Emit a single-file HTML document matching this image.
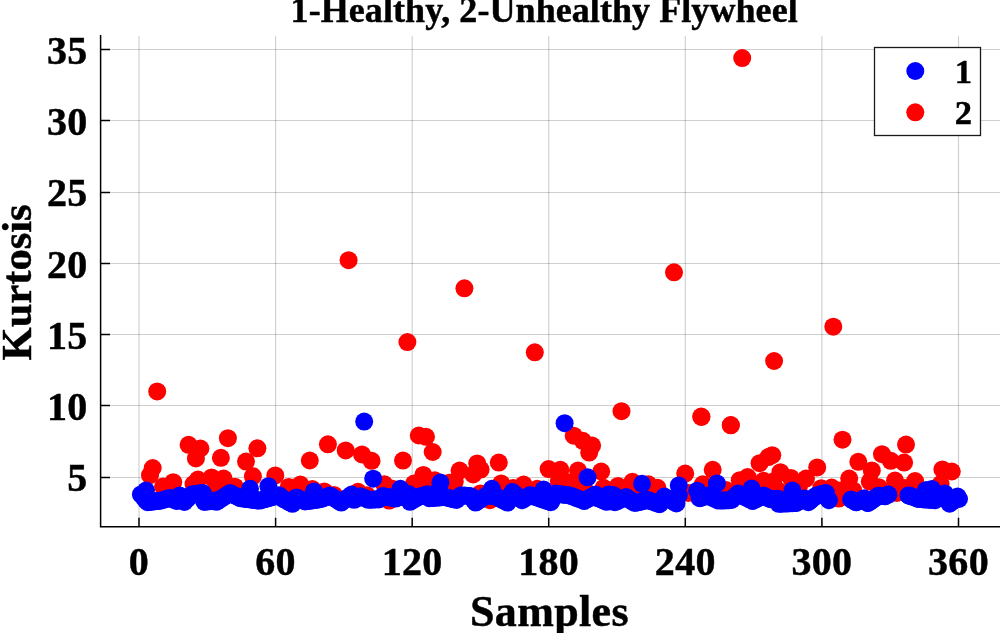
<!DOCTYPE html>
<html><head><meta charset="utf-8"><title>Kurtosis</title>
<style>
html,body{margin:0;padding:0;background:#fff;}
body{width:1000px;height:633px;overflow:hidden;position:relative;font-family:"Liberation Serif",serif;}
svg{position:absolute;left:0;top:0;display:block}
text{font-family:"Liberation Serif",serif;font-weight:bold;fill:#000;stroke:#000;stroke-width:0.45px;stroke-linejoin:round}
</style></head><body>
<svg width="1000" height="633" viewBox="0 0 1000 633">
<rect width="1000" height="633" fill="#fff"/>
<g stroke="#000" stroke-opacity="0.19" stroke-width="1.15" fill="none"><line x1="139.0" y1="36" x2="139.0" y2="527"/><line x1="275.6" y1="36" x2="275.6" y2="527"/><line x1="412.2" y1="36" x2="412.2" y2="527"/><line x1="548.7" y1="36" x2="548.7" y2="527"/><line x1="685.3" y1="36" x2="685.3" y2="527"/><line x1="821.9" y1="36" x2="821.9" y2="527"/><line x1="958.5" y1="36" x2="958.5" y2="527"/><line x1="100" y1="477.5" x2="1000" y2="477.5"/><line x1="100" y1="405.5" x2="1000" y2="405.5"/><line x1="100" y1="334.5" x2="1000" y2="334.5"/><line x1="100" y1="263.5" x2="1000" y2="263.5"/><line x1="100" y1="192.5" x2="1000" y2="192.5"/><line x1="100" y1="120.5" x2="1000" y2="120.5"/><line x1="100" y1="49.5" x2="1000" y2="49.5"/></g>
<g fill="#ff0000"><circle cx="348.6" cy="260.2" r="9"/><circle cx="407.4" cy="342.1" r="9"/><circle cx="157.2" cy="391.4" r="9"/><circle cx="464.4" cy="288.3" r="9"/><circle cx="534.8" cy="352.3" r="9"/><circle cx="674.0" cy="272.3" r="9"/><circle cx="621.5" cy="411.2" r="9"/><circle cx="701.2" cy="416.6" r="9"/><circle cx="730.8" cy="425.0" r="9"/><circle cx="833.3" cy="326.7" r="9"/><circle cx="774.1" cy="361.0" r="9"/><circle cx="742.2" cy="58.1" r="9"/><circle cx="152.7" cy="468.0" r="9"/><circle cx="150.0" cy="475.2" r="9"/><circle cx="188.6" cy="444.8" r="9"/><circle cx="200.4" cy="448.5" r="9"/><circle cx="195.9" cy="458.4" r="9"/><circle cx="227.9" cy="438.2" r="9"/><circle cx="220.9" cy="457.8" r="9"/><circle cx="257.4" cy="448.3" r="9"/><circle cx="246.0" cy="461.6" r="9"/><circle cx="252.9" cy="476.3" r="9"/><circle cx="275.3" cy="475.4" r="9"/><circle cx="288.7" cy="486.9" r="9"/><circle cx="173.2" cy="482.2" r="9"/><circle cx="163.1" cy="486.6" r="9"/><circle cx="198.0" cy="479.5" r="9"/><circle cx="211.6" cy="477.4" r="9"/><circle cx="223.6" cy="478.6" r="9"/><circle cx="234.8" cy="486.7" r="9"/><circle cx="193.5" cy="484.0" r="9"/><circle cx="216.4" cy="487.2" r="9"/><circle cx="309.8" cy="460.5" r="9"/><circle cx="327.9" cy="444.3" r="9"/><circle cx="345.7" cy="450.4" r="9"/><circle cx="362.0" cy="454.4" r="9"/><circle cx="371.6" cy="460.8" r="9"/><circle cx="403.0" cy="460.6" r="9"/><circle cx="418.8" cy="435.5" r="9"/><circle cx="426.0" cy="436.8" r="9"/><circle cx="432.7" cy="452.0" r="9"/><circle cx="423.3" cy="474.9" r="9"/><circle cx="434.8" cy="480.3" r="9"/><circle cx="414.0" cy="483.5" r="9"/><circle cx="300.4" cy="484.6" r="9"/><circle cx="312.4" cy="489.1" r="9"/><circle cx="324.4" cy="491.5" r="9"/><circle cx="334.0" cy="494.9" r="9"/><circle cx="358.0" cy="491.8" r="9"/><circle cx="366.8" cy="495.2" r="9"/><circle cx="384.4" cy="484.3" r="9"/><circle cx="392.4" cy="488.8" r="9"/><circle cx="389.2" cy="500.6" r="9"/><circle cx="449.2" cy="482.7" r="9"/><circle cx="426.8" cy="484.8" r="9"/><circle cx="459.6" cy="470.6" r="9"/><circle cx="477.2" cy="463.4" r="9"/><circle cx="480.6" cy="469.6" r="9"/><circle cx="473.2" cy="474.4" r="9"/><circle cx="498.8" cy="462.6" r="9"/><circle cx="454.8" cy="481.6" r="9"/><circle cx="501.2" cy="483.4" r="9"/><circle cx="523.6" cy="484.6" r="9"/><circle cx="513.2" cy="488.0" r="9"/><circle cx="537.2" cy="488.8" r="9"/><circle cx="548.6" cy="469.1" r="9"/><circle cx="560.4" cy="469.8" r="9"/><circle cx="578.0" cy="470.6" r="9"/><circle cx="601.2" cy="471.5" r="9"/><circle cx="573.7" cy="435.7" r="9"/><circle cx="582.8" cy="440.8" r="9"/><circle cx="592.1" cy="445.6" r="9"/><circle cx="589.2" cy="452.6" r="9"/><circle cx="558.8" cy="480.8" r="9"/><circle cx="568.4" cy="482.4" r="9"/><circle cx="576.4" cy="487.2" r="9"/><circle cx="603.6" cy="487.8" r="9"/><circle cx="490.0" cy="500.2" r="9"/><circle cx="480.4" cy="493.4" r="9"/><circle cx="584.4" cy="488.8" r="9"/><circle cx="701.5" cy="417.0" r="9"/><circle cx="730.8" cy="425.3" r="9"/><circle cx="685.2" cy="473.6" r="9"/><circle cx="712.7" cy="469.8" r="9"/><circle cx="632.4" cy="481.8" r="9"/><circle cx="618.0" cy="485.9" r="9"/><circle cx="657.5" cy="487.8" r="9"/><circle cx="648.4" cy="484.3" r="9"/><circle cx="702.8" cy="484.3" r="9"/><circle cx="739.8" cy="480.2" r="9"/><circle cx="747.6" cy="477.1" r="9"/><circle cx="759.6" cy="463.2" r="9"/><circle cx="768.4" cy="457.1" r="9"/><circle cx="763.6" cy="480.8" r="9"/><circle cx="688.4" cy="493.0" r="9"/><circle cx="726.0" cy="490.1" r="9"/><circle cx="637.2" cy="490.4" r="9"/><circle cx="650.0" cy="491.2" r="9"/><circle cx="772.2" cy="455.2" r="9"/><circle cx="780.4" cy="472.2" r="9"/><circle cx="790.8" cy="477.9" r="9"/><circle cx="806.0" cy="478.6" r="9"/><circle cx="817.2" cy="467.4" r="9"/><circle cx="773.2" cy="481.6" r="9"/><circle cx="842.5" cy="439.7" r="9"/><circle cx="858.3" cy="461.8" r="9"/><circle cx="871.8" cy="470.4" r="9"/><circle cx="869.8" cy="481.6" r="9"/><circle cx="849.2" cy="478.6" r="9"/><circle cx="882.0" cy="454.2" r="9"/><circle cx="890.8" cy="460.8" r="9"/><circle cx="906.0" cy="444.6" r="9"/><circle cx="904.1" cy="462.6" r="9"/><circle cx="895.0" cy="480.6" r="9"/><circle cx="915.1" cy="481.0" r="9"/><circle cx="821.2" cy="488.2" r="9"/><circle cx="831.6" cy="487.5" r="9"/><circle cx="840.4" cy="490.4" r="9"/><circle cx="838.8" cy="498.6" r="9"/><circle cx="853.2" cy="490.4" r="9"/><circle cx="878.8" cy="487.2" r="9"/><circle cx="896.7" cy="492.2" r="9"/><circle cx="778.0" cy="490.4" r="9"/><circle cx="798.8" cy="487.2" r="9"/><circle cx="942.4" cy="469.4" r="9"/><circle cx="951.8" cy="471.5" r="9"/><circle cx="940.6" cy="484.0" r="9"/><circle cx="896.8" cy="493.0" r="9"/><circle cx="878.4" cy="488.0" r="9"/><circle cx="904.8" cy="488.0" r="9"/></g>
<g fill="#0000ff"><circle cx="364.2" cy="421.6" r="9"/><circle cx="564.6" cy="423.2" r="9"/><circle cx="373.2" cy="478.7" r="9"/><circle cx="587.6" cy="477.3" r="9"/><circle cx="177.0" cy="501.0" r="9"/><circle cx="146.0" cy="490.6" r="9"/><circle cx="140.9" cy="494.4" r="9"/><circle cx="147.6" cy="502.2" r="9"/><circle cx="161.2" cy="500.5" r="9"/><circle cx="170.0" cy="497.9" r="9"/><circle cx="179.6" cy="495.4" r="9"/><circle cx="184.4" cy="501.9" r="9"/><circle cx="191.6" cy="494.6" r="9"/><circle cx="202.8" cy="493.0" r="9"/><circle cx="204.4" cy="501.9" r="9"/><circle cx="216.4" cy="501.8" r="9"/><circle cx="214.8" cy="500.5" r="9"/><circle cx="230.0" cy="493.1" r="9"/><circle cx="240.4" cy="498.2" r="9"/><circle cx="250.0" cy="488.8" r="9"/><circle cx="268.4" cy="486.2" r="9"/><circle cx="259.6" cy="500.6" r="9"/><circle cx="278.8" cy="495.2" r="9"/><circle cx="283.6" cy="499.2" r="9"/><circle cx="314.0" cy="491.4" r="9"/><circle cx="292.4" cy="503.8" r="9"/><circle cx="305.2" cy="501.4" r="9"/><circle cx="296.4" cy="497.4" r="9"/><circle cx="321.2" cy="499.0" r="9"/><circle cx="330.0" cy="495.5" r="9"/><circle cx="341.2" cy="502.6" r="9"/><circle cx="351.6" cy="494.6" r="9"/><circle cx="354.0" cy="499.8" r="9"/><circle cx="360.4" cy="496.2" r="9"/><circle cx="368.4" cy="499.8" r="9"/><circle cx="378.8" cy="499.4" r="9"/><circle cx="382.8" cy="496.0" r="9"/><circle cx="400.4" cy="488.8" r="9"/><circle cx="395.6" cy="498.6" r="9"/><circle cx="410.0" cy="501.8" r="9"/><circle cx="408.4" cy="493.9" r="9"/><circle cx="418.0" cy="497.1" r="9"/><circle cx="427.6" cy="494.2" r="9"/><circle cx="429.2" cy="498.2" r="9"/><circle cx="440.4" cy="482.6" r="9"/><circle cx="444.4" cy="497.0" r="9"/><circle cx="438.8" cy="490.4" r="9"/><circle cx="461.2" cy="495.2" r="9"/><circle cx="456.4" cy="500.0" r="9"/><circle cx="470.8" cy="496.2" r="9"/><circle cx="475.6" cy="502.6" r="9"/><circle cx="491.9" cy="488.8" r="9"/><circle cx="494.8" cy="495.8" r="9"/><circle cx="486.0" cy="495.8" r="9"/><circle cx="507.6" cy="502.6" r="9"/><circle cx="512.4" cy="492.0" r="9"/><circle cx="522.0" cy="500.2" r="9"/><circle cx="530.0" cy="495.0" r="9"/><circle cx="543.6" cy="489.6" r="9"/><circle cx="550.8" cy="502.2" r="9"/><circle cx="555.6" cy="493.6" r="9"/><circle cx="570.0" cy="495.5" r="9"/><circle cx="584.4" cy="501.0" r="9"/><circle cx="595.6" cy="494.6" r="9"/><circle cx="597.2" cy="497.8" r="9"/><circle cx="606.8" cy="501.8" r="9"/><circle cx="608.4" cy="494.6" r="9"/><circle cx="642.0" cy="483.8" r="9"/><circle cx="678.8" cy="485.4" r="9"/><circle cx="678.8" cy="495.2" r="9"/><circle cx="716.9" cy="483.4" r="9"/><circle cx="614.8" cy="502.2" r="9"/><circle cx="613.2" cy="494.9" r="9"/><circle cx="626.0" cy="497.1" r="9"/><circle cx="634.8" cy="503.0" r="9"/><circle cx="647.6" cy="500.0" r="9"/><circle cx="659.6" cy="504.2" r="9"/><circle cx="664.4" cy="496.6" r="9"/><circle cx="676.4" cy="503.4" r="9"/><circle cx="697.2" cy="490.7" r="9"/><circle cx="699.6" cy="498.2" r="9"/><circle cx="707.6" cy="495.5" r="9"/><circle cx="718.8" cy="500.6" r="9"/><circle cx="731.6" cy="500.0" r="9"/><circle cx="738.0" cy="493.4" r="9"/><circle cx="751.6" cy="488.6" r="9"/><circle cx="752.4" cy="501.0" r="9"/><circle cx="763.6" cy="495.5" r="9"/><circle cx="768.4" cy="498.2" r="9"/><circle cx="792.4" cy="490.6" r="9"/><circle cx="778.8" cy="503.8" r="9"/><circle cx="778.0" cy="498.7" r="9"/><circle cx="770.8" cy="499.2" r="9"/><circle cx="796.4" cy="503.0" r="9"/><circle cx="808.4" cy="502.2" r="9"/><circle cx="804.4" cy="498.4" r="9"/><circle cx="816.4" cy="495.5" r="9"/><circle cx="826.0" cy="493.0" r="9"/><circle cx="828.9" cy="500.2" r="9"/><circle cx="851.1" cy="499.4" r="9"/><circle cx="856.4" cy="502.2" r="9"/><circle cx="864.4" cy="498.6" r="9"/><circle cx="867.6" cy="502.9" r="9"/><circle cx="878.8" cy="495.8" r="9"/><circle cx="888.2" cy="494.6" r="9"/><circle cx="885.2" cy="496.2" r="9"/><circle cx="908.6" cy="495.4" r="9"/><circle cx="918.8" cy="499.0" r="9"/><circle cx="926.0" cy="490.2" r="9"/><circle cx="856.0" cy="502.2" r="9"/><circle cx="864.0" cy="498.6" r="9"/><circle cx="868.0" cy="503.0" r="9"/><circle cx="878.4" cy="495.8" r="9"/><circle cx="888.2" cy="494.6" r="9"/><circle cx="884.8" cy="496.2" r="9"/><circle cx="908.6" cy="495.4" r="9"/><circle cx="919.2" cy="499.0" r="9"/><circle cx="926.4" cy="490.2" r="9"/><circle cx="932.0" cy="489.0" r="9"/><circle cx="935.2" cy="500.2" r="9"/><circle cx="944.8" cy="493.4" r="9"/><circle cx="949.6" cy="503.7" r="9"/><circle cx="957.6" cy="496.6" r="9"/><circle cx="959.0" cy="499.0" r="9"/><circle cx="143.6" cy="497.5" r="9"/><circle cx="145.8" cy="500.2" r="9"/><circle cx="150.4" cy="501.9" r="9"/><circle cx="152.7" cy="501.6" r="9"/><circle cx="154.9" cy="501.3" r="9"/><circle cx="157.2" cy="501.0" r="9"/><circle cx="159.5" cy="500.7" r="9"/><circle cx="164.0" cy="499.7" r="9"/><circle cx="166.3" cy="499.0" r="9"/><circle cx="168.6" cy="498.3" r="9"/><circle cx="173.1" cy="499.3" r="9"/><circle cx="175.4" cy="500.3" r="9"/><circle cx="182.3" cy="499.0" r="9"/><circle cx="186.8" cy="499.5" r="9"/><circle cx="189.1" cy="497.1" r="9"/><circle cx="193.6" cy="494.3" r="9"/><circle cx="195.9" cy="493.9" r="9"/><circle cx="198.2" cy="493.6" r="9"/><circle cx="200.5" cy="493.3" r="9"/><circle cx="207.3" cy="501.5" r="9"/><circle cx="209.6" cy="501.2" r="9"/><circle cx="211.8" cy="500.9" r="9"/><circle cx="218.7" cy="500.3" r="9"/><circle cx="220.9" cy="498.9" r="9"/><circle cx="223.2" cy="497.4" r="9"/><circle cx="225.5" cy="496.0" r="9"/><circle cx="227.8" cy="494.5" r="9"/><circle cx="232.3" cy="494.3" r="9"/><circle cx="234.6" cy="495.4" r="9"/><circle cx="236.9" cy="496.5" r="9"/><circle cx="239.2" cy="497.6" r="9"/><circle cx="243.7" cy="498.7" r="9"/><circle cx="246.0" cy="498.9" r="9"/><circle cx="248.3" cy="499.2" r="9"/><circle cx="250.5" cy="499.5" r="9"/><circle cx="252.8" cy="499.8" r="9"/><circle cx="255.1" cy="500.1" r="9"/><circle cx="257.4" cy="500.4" r="9"/><circle cx="261.9" cy="500.0" r="9"/><circle cx="264.2" cy="499.3" r="9"/><circle cx="266.5" cy="498.7" r="9"/><circle cx="268.8" cy="498.0" r="9"/><circle cx="271.0" cy="497.4" r="9"/><circle cx="273.3" cy="496.8" r="9"/><circle cx="275.6" cy="496.1" r="9"/><circle cx="280.1" cy="496.3" r="9"/><circle cx="282.4" cy="498.2" r="9"/><circle cx="287.0" cy="501.0" r="9"/><circle cx="289.2" cy="502.2" r="9"/><circle cx="293.8" cy="501.6" r="9"/><circle cx="298.3" cy="498.3" r="9"/><circle cx="300.6" cy="499.4" r="9"/><circle cx="302.9" cy="500.4" r="9"/><circle cx="307.4" cy="501.1" r="9"/><circle cx="309.7" cy="500.8" r="9"/><circle cx="312.0" cy="500.4" r="9"/><circle cx="314.3" cy="500.1" r="9"/><circle cx="316.6" cy="499.7" r="9"/><circle cx="318.8" cy="499.4" r="9"/><circle cx="323.4" cy="498.2" r="9"/><circle cx="325.7" cy="497.3" r="9"/><circle cx="327.9" cy="496.3" r="9"/><circle cx="332.5" cy="497.1" r="9"/><circle cx="334.8" cy="498.5" r="9"/><circle cx="337.0" cy="499.9" r="9"/><circle cx="339.3" cy="501.4" r="9"/><circle cx="343.9" cy="500.5" r="9"/><circle cx="346.1" cy="498.8" r="9"/><circle cx="348.4" cy="497.0" r="9"/><circle cx="355.3" cy="499.1" r="9"/><circle cx="357.5" cy="497.8" r="9"/><circle cx="362.1" cy="496.9" r="9"/><circle cx="364.4" cy="498.0" r="9"/><circle cx="366.6" cy="499.0" r="9"/><circle cx="371.2" cy="499.7" r="9"/><circle cx="373.5" cy="499.6" r="9"/><circle cx="375.7" cy="499.5" r="9"/><circle cx="380.3" cy="498.1" r="9"/><circle cx="384.8" cy="496.4" r="9"/><circle cx="387.1" cy="496.9" r="9"/><circle cx="389.4" cy="497.3" r="9"/><circle cx="391.7" cy="497.8" r="9"/><circle cx="393.9" cy="498.2" r="9"/><circle cx="398.5" cy="497.5" r="9"/><circle cx="400.8" cy="496.7" r="9"/><circle cx="403.1" cy="495.9" r="9"/><circle cx="405.3" cy="495.0" r="9"/><circle cx="412.2" cy="500.5" r="9"/><circle cx="414.4" cy="499.2" r="9"/><circle cx="416.7" cy="497.9" r="9"/><circle cx="421.3" cy="496.1" r="9"/><circle cx="423.5" cy="495.5" r="9"/><circle cx="425.8" cy="494.8" r="9"/><circle cx="430.4" cy="498.1" r="9"/><circle cx="432.6" cy="497.9" r="9"/><circle cx="434.9" cy="497.8" r="9"/><circle cx="437.2" cy="497.6" r="9"/><circle cx="439.5" cy="497.4" r="9"/><circle cx="441.8" cy="497.2" r="9"/><circle cx="446.3" cy="497.4" r="9"/><circle cx="448.6" cy="498.0" r="9"/><circle cx="450.9" cy="498.6" r="9"/><circle cx="453.1" cy="499.2" r="9"/><circle cx="457.7" cy="498.7" r="9"/><circle cx="460.0" cy="496.4" r="9"/><circle cx="464.5" cy="495.5" r="9"/><circle cx="466.8" cy="495.8" r="9"/><circle cx="469.1" cy="496.0" r="9"/><circle cx="473.6" cy="499.9" r="9"/><circle cx="478.2" cy="500.9" r="9"/><circle cx="480.5" cy="499.4" r="9"/><circle cx="482.7" cy="498.0" r="9"/><circle cx="487.3" cy="495.8" r="9"/><circle cx="489.6" cy="495.8" r="9"/><circle cx="491.8" cy="495.8" r="9"/><circle cx="496.4" cy="496.7" r="9"/><circle cx="498.7" cy="497.9" r="9"/><circle cx="500.9" cy="499.1" r="9"/><circle cx="503.2" cy="500.3" r="9"/><circle cx="505.5" cy="501.5" r="9"/><circle cx="510.0" cy="497.2" r="9"/><circle cx="514.6" cy="493.9" r="9"/><circle cx="516.9" cy="495.8" r="9"/><circle cx="519.1" cy="497.7" r="9"/><circle cx="523.7" cy="499.1" r="9"/><circle cx="526.0" cy="497.6" r="9"/><circle cx="528.3" cy="496.2" r="9"/><circle cx="532.8" cy="496.0" r="9"/><circle cx="535.1" cy="496.8" r="9"/><circle cx="537.4" cy="497.6" r="9"/><circle cx="539.6" cy="498.4" r="9"/><circle cx="541.9" cy="499.2" r="9"/><circle cx="544.2" cy="500.0" r="9"/><circle cx="546.5" cy="500.7" r="9"/><circle cx="548.7" cy="501.5" r="9"/><circle cx="553.3" cy="497.8" r="9"/><circle cx="557.8" cy="493.9" r="9"/><circle cx="560.1" cy="494.2" r="9"/><circle cx="562.4" cy="494.5" r="9"/><circle cx="564.7" cy="494.8" r="9"/><circle cx="567.0" cy="495.1" r="9"/><circle cx="571.5" cy="496.1" r="9"/><circle cx="573.8" cy="496.9" r="9"/><circle cx="576.1" cy="497.8" r="9"/><circle cx="578.3" cy="498.7" r="9"/><circle cx="580.6" cy="499.5" r="9"/><circle cx="582.9" cy="500.4" r="9"/><circle cx="587.4" cy="499.2" r="9"/><circle cx="589.7" cy="497.9" r="9"/><circle cx="592.0" cy="496.6" r="9"/><circle cx="594.3" cy="495.3" r="9"/><circle cx="598.8" cy="498.4" r="9"/><circle cx="601.1" cy="499.4" r="9"/><circle cx="603.4" cy="500.3" r="9"/><circle cx="605.6" cy="501.3" r="9"/><circle cx="610.2" cy="494.7" r="9"/><circle cx="617.0" cy="501.2" r="9"/><circle cx="619.3" cy="500.2" r="9"/><circle cx="621.6" cy="499.1" r="9"/><circle cx="623.9" cy="498.1" r="9"/><circle cx="628.4" cy="498.7" r="9"/><circle cx="630.7" cy="500.3" r="9"/><circle cx="633.0" cy="501.8" r="9"/><circle cx="637.5" cy="502.4" r="9"/><circle cx="639.8" cy="501.9" r="9"/><circle cx="642.1" cy="501.3" r="9"/><circle cx="644.3" cy="500.8" r="9"/><circle cx="648.9" cy="500.5" r="9"/><circle cx="651.2" cy="501.2" r="9"/><circle cx="653.5" cy="502.0" r="9"/><circle cx="655.7" cy="502.8" r="9"/><circle cx="658.0" cy="503.6" r="9"/><circle cx="662.6" cy="499.5" r="9"/><circle cx="667.1" cy="498.2" r="9"/><circle cx="669.4" cy="499.4" r="9"/><circle cx="671.7" cy="500.7" r="9"/><circle cx="673.9" cy="502.0" r="9"/><circle cx="701.3" cy="497.7" r="9"/><circle cx="703.5" cy="496.9" r="9"/><circle cx="705.8" cy="496.1" r="9"/><circle cx="710.4" cy="496.8" r="9"/><circle cx="712.6" cy="497.8" r="9"/><circle cx="714.9" cy="498.9" r="9"/><circle cx="717.2" cy="499.9" r="9"/><circle cx="721.7" cy="500.5" r="9"/><circle cx="724.0" cy="500.4" r="9"/><circle cx="726.3" cy="500.3" r="9"/><circle cx="728.6" cy="500.2" r="9"/><circle cx="733.1" cy="498.4" r="9"/><circle cx="735.4" cy="496.1" r="9"/><circle cx="740.0" cy="494.5" r="9"/><circle cx="742.2" cy="495.6" r="9"/><circle cx="744.5" cy="496.8" r="9"/><circle cx="746.8" cy="498.0" r="9"/><circle cx="749.1" cy="499.2" r="9"/><circle cx="753.6" cy="500.4" r="9"/><circle cx="755.9" cy="499.3" r="9"/><circle cx="758.2" cy="498.2" r="9"/><circle cx="760.4" cy="497.1" r="9"/><circle cx="765.0" cy="496.3" r="9"/><circle cx="769.5" cy="498.7" r="9"/><circle cx="774.1" cy="499.0" r="9"/><circle cx="776.4" cy="498.8" r="9"/><circle cx="780.9" cy="503.7" r="9"/><circle cx="783.2" cy="503.6" r="9"/><circle cx="785.5" cy="503.5" r="9"/><circle cx="787.8" cy="503.4" r="9"/><circle cx="790.0" cy="503.3" r="9"/><circle cx="792.3" cy="503.2" r="9"/><circle cx="794.6" cy="503.1" r="9"/><circle cx="799.1" cy="501.5" r="9"/><circle cx="801.4" cy="500.1" r="9"/><circle cx="806.0" cy="499.9" r="9"/><circle cx="810.5" cy="500.5" r="9"/><circle cx="812.8" cy="498.5" r="9"/><circle cx="815.1" cy="496.6" r="9"/><circle cx="819.6" cy="494.7" r="9"/><circle cx="821.9" cy="494.1" r="9"/><circle cx="824.2" cy="493.4" r="9"/><circle cx="853.8" cy="500.9" r="9"/><circle cx="858.3" cy="501.3" r="9"/><circle cx="860.6" cy="500.2" r="9"/><circle cx="869.7" cy="501.9" r="9"/><circle cx="872.0" cy="500.3" r="9"/><circle cx="874.3" cy="498.7" r="9"/><circle cx="876.5" cy="497.1" r="9"/><circle cx="881.1" cy="496.0" r="9"/><circle cx="883.4" cy="496.1" r="9"/><circle cx="910.7" cy="496.1" r="9"/><circle cx="913.0" cy="496.9" r="9"/><circle cx="915.2" cy="497.7" r="9"/><circle cx="917.5" cy="498.6" r="9"/><circle cx="922.1" cy="499.2" r="9"/><circle cx="924.3" cy="499.4" r="9"/><circle cx="926.6" cy="499.6" r="9"/><circle cx="928.9" cy="499.7" r="9"/><circle cx="931.2" cy="499.9" r="9"/><circle cx="933.4" cy="500.0" r="9"/><circle cx="938.0" cy="498.2" r="9"/><circle cx="940.3" cy="496.6" r="9"/><circle cx="942.5" cy="495.0" r="9"/><circle cx="947.1" cy="498.3" r="9"/><circle cx="951.7" cy="501.9" r="9"/><circle cx="953.9" cy="499.9" r="9"/><circle cx="956.2" cy="497.9" r="9"/></g>
<g stroke="#000" stroke-width="1.5" fill="none"><path d="M100.6 35V526.8H1000"/><path d="M139.0 527V517.8"/><path d="M275.6 527V517.8"/><path d="M412.2 527V517.8"/><path d="M548.7 527V517.8"/><path d="M685.3 527V517.8"/><path d="M821.9 527V517.8"/><path d="M958.5 527V517.8"/><path d="M100.5 477.5H110"/><path d="M100.5 405.5H110"/><path d="M100.5 334.5H110"/><path d="M100.5 263.5H110"/><path d="M100.5 192.5H110"/><path d="M100.5 120.5H110"/><path d="M100.5 49.5H110"/></g>
<text x="139.0" y="574.6" font-size="40" letter-spacing="0.3" text-anchor="middle">0</text><text x="275.6" y="574.6" font-size="40" letter-spacing="0.3" text-anchor="middle">60</text><text x="412.2" y="574.6" font-size="40" letter-spacing="0.3" text-anchor="middle">120</text><text x="548.7" y="574.6" font-size="40" letter-spacing="0.3" text-anchor="middle">180</text><text x="685.3" y="574.6" font-size="40" letter-spacing="0.3" text-anchor="middle">240</text><text x="821.9" y="574.6" font-size="40" letter-spacing="0.3" text-anchor="middle">300</text><text x="958.5" y="574.6" font-size="40" letter-spacing="0.3" text-anchor="middle">360</text><text x="87.5" y="491.4" font-size="40" letter-spacing="0.3" text-anchor="end">5</text><text x="87.5" y="420.1" font-size="40" letter-spacing="0.3" text-anchor="end">10</text><text x="87.5" y="348.9" font-size="40" letter-spacing="0.3" text-anchor="end">15</text><text x="87.5" y="277.6" font-size="40" letter-spacing="0.3" text-anchor="end">20</text><text x="87.5" y="206.3" font-size="40" letter-spacing="0.3" text-anchor="end">25</text><text x="87.5" y="135.1" font-size="40" letter-spacing="0.3" text-anchor="end">30</text><text x="87.5" y="63.8" font-size="40" letter-spacing="0.3" text-anchor="end">35</text><text x="549.5" y="625.6" font-size="44" letter-spacing="0.35" text-anchor="middle">Samples</text><text x="544.2" y="21.6" font-size="36" letter-spacing="0.07" text-anchor="middle">1-Healthy, 2-Unhealthy Flywheel</text><text transform="translate(30.7,282.4) rotate(-90)" font-size="42.6" text-anchor="middle">Kurtosis</text>
<rect x="874.5" y="47.5" width="106" height="88" fill="#fff" stroke="#1a1a1a" stroke-width="1.3"/>
<circle cx="915.3" cy="71" r="9" fill="#0000ff"/><circle cx="915.3" cy="112.3" r="9" fill="#ff0000"/>
<text x="963.3" y="82.9" font-size="34.5" text-anchor="middle">1</text><text x="963.3" y="123.9" font-size="34.5" text-anchor="middle">2</text>
</svg></body></html>
